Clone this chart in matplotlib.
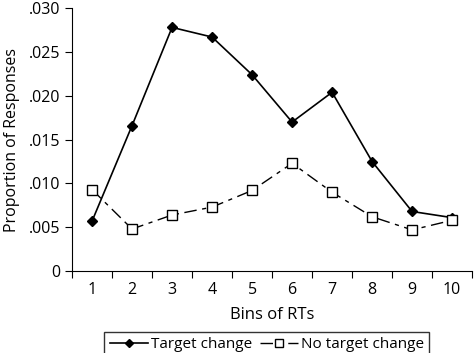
import numpy as np
import matplotlib.pyplot as plt
from matplotlib.ticker import FuncFormatter

plt.rcParams['font.family'] = ['Open Sans', 'DejaVu Sans']

bins = [1, 2, 3, 4, 5, 6, 7, 8, 9, 10]
target_change = [0.0057, 0.0166, 0.0278, 0.0267, 0.0224, 0.0170, 0.0204, 0.0125, 0.0068, 0.0061]
no_target_change = [0.0093, 0.0048, 0.0064, 0.0073, 0.0092, 0.0123, 0.0090, 0.0062, 0.0047, 0.0058]

fig = plt.figure(figsize=(4.74, 3.53), dpi=100)
ax = fig.add_axes([0.152, 0.232, 0.844, 0.745])

ax.plot(bins, target_change, color='black', lw=1.2, marker='D', ms=5,
        mfc='black', mec='black', label='Target change')
ax.plot(bins, no_target_change, color='black', lw=1.0, dashes=(9, 4, 3, 4),
        marker='s', ms=7, mfc='white', mec='black', mew=1.0, label='No target change')

ax.set_xlim(0.5, 10.5)
ax.set_ylim(0, 0.030)
# ticks sit between the categories, labels in the middle
ax.set_xticks(np.arange(0.5, 10.6, 1))
ax.set_xticklabels([])
ax.set_xticks(bins, minor=True)
ax.set_xticklabels([str(b) for b in bins], minor=True)
ax.tick_params(axis='x', which='minor', length=0, labelsize=11.5, pad=8)
ax.tick_params(axis='x', which='major', length=5, direction='out')
ax.set_yticks(np.arange(0, 0.0301, 0.005))
ax.yaxis.set_major_formatter(FuncFormatter(lambda v, p: '0' if v == 0 else ('%.3f' % v)[1:]))
ax.tick_params(axis='y', length=5, labelsize=11.5)

for s in ['top', 'right']:
    ax.spines[s].set_visible(False)

ax.set_xlabel('Bins of RTs', fontsize=12, labelpad=6)
ax.set_ylabel('Proportion of Responses', fontsize=11.5, labelpad=6)

leg = fig.legend(loc='upper center', bbox_to_anchor=(0.563, 0.082), ncol=2,
                 fontsize=11, frameon=True, fancybox=False, edgecolor='black',
                 handlelength=2.5, columnspacing=0.5, handletextpad=0.2,
                 borderpad=0.35, markerscale=0.8)
leg.get_frame().set_linewidth(1.0)

fig.savefig('out.png', dpi=100)
